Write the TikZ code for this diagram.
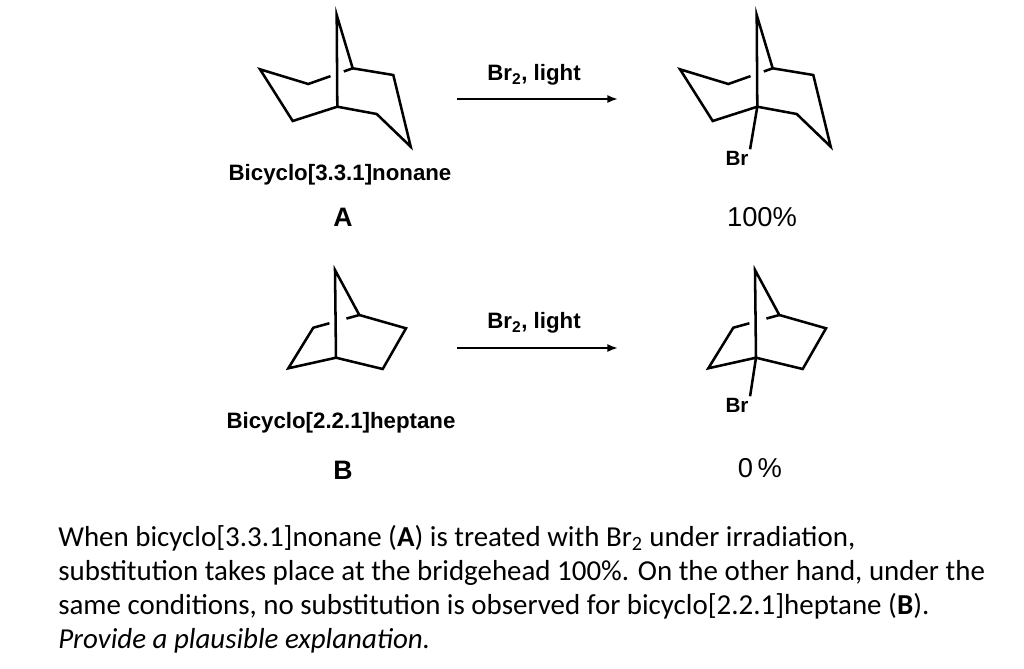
\documentclass[tikz,border=0pt]{standalone}
\usepackage{fontspec}
\setmainfont{Liberation Sans}
\newfontfamily\calib{Carlito}
\usetikzlibrary{arrows.meta,calc}
\begin{document}
\begin{tikzpicture}[x=0.75pt,y=-0.75pt,
 bond/.style={line width=1.9pt,line join=miter},
 lbl/.style={font=\bfseries\fontsize{16.7}{19}\selectfont},
 brl/.style={font=\bfseries\fontsize{15.5}{18}\selectfont,inner sep=1pt},
 pct/.style={font=\fontsize{20.5}{24}\selectfont},
 arr/.style={line width=1.3pt,-{Latex[length=8pt,width=6pt]}}]
\useasboundingbox (0,0) rectangle (1024,668);
% bicyclo[3.3.1]nonane
\foreach \dx/\n in {0/a,420/p}{
\begin{scope}[shift={(\dx,0)}]
\coordinate (\n t) at (336.7,15); \coordinate (\n u) at (352.7,68.3);
\coordinate (\n l) at (337.3,106.7); \coordinate (\n b) at (308.3,84);
\coordinate (\n lt) at (260,69.3); \coordinate (\n ll) at (292.7,121);
\coordinate (\n r1) at (393.3,75); \coordinate (\n r3) at (410.7,146.7);
\coordinate (\n r2) at (376.7,114);
\draw[bond] ($(\n b)!0.5!(\n u)$)--(\n b)--(\n lt)--(\n ll)--(\n l)--(\n r2)--(\n r3)--(\n r1)--(\n u)--(\n t)--(\n l);
\draw[bond] ($(\n b)!0.8!(\n u)$)--(\n u);
\end{scope}}
\node[brl] (brA) at (737,158) {Br};
\draw[bond] (pl)--(brA.north east);
% bicyclo[2.2.1]heptane
\foreach \dx/\n in {0/c,420/q}{
\begin{scope}[shift={(\dx,0)}]
\coordinate (\n t) at (335,270); \coordinate (\n u) at (359.3,315);
\coordinate (\n l) at (336,357.7); \coordinate (\n b) at (313.3,327.7);
\coordinate (\n lb) at (288.3,368.3); \coordinate (\n r) at (406,328.3);
\coordinate (\n rb) at (382.7,369);
\draw[bond] ($(\n b)!0.35!(\n u)$)--(\n b)--(\n lb)--(\n l)--(\n rb)--(\n r)--(\n u)--(\n t)--(\n l);
\draw[bond] ($(\n b)!0.72!(\n u)$)--(\n u);
\end{scope}}
\node[brl] (brB) at (737,405) {Br};
\draw[bond] (ql)--(brB.north east);
% arrows
\coordinate (a1) at (457,99); \coordinate (a2) at (618,99);
\coordinate (b1) at (457,348); \coordinate (b2) at (618,348);
\draw[arr] (a1)--(a2);
\draw[arr] (b1)--(b2);
\node[lbl] (c1) at (534,75) {Br\textsubscript{2}, light};
\node[lbl] (c2) at (534,323) {Br\textsubscript{2}, light};
\node[lbl] (nA) at (340,175) {Bicyclo[3.3.1]nonane};
\node[pct,font=\bfseries\fontsize{20}{24}\selectfont] (A) at (343,217) {A};
\node[pct] (y1) at (762,217) {100\%};
\node[lbl] (nB) at (341,423) {Bicyclo[2.2.1]heptane};
\node[pct,font=\bfseries\fontsize{20}{24}\selectfont] (B) at (343,470) {B};
\node[pct] (y2) at (760,468) {0\,\%};
\node[anchor=north west,align=left,inner sep=0pt,font=\calib\fontsize{21.7}{25.5}\selectfont] (txt) at (58,525)
{When bicyclo[3.3.1]nonane (\textbf{A}) is treated with Br\textsubscript{2} under irradiation,\\
substitution takes place at the bridgehead 100\%. On the other hand, under the\\
same conditions, no substitution is observed for bicyclo[2.2.1]heptane (\textbf{B}).\\
\textit{Provide a plausible explanation.}};
\end{tikzpicture}
\end{document}
